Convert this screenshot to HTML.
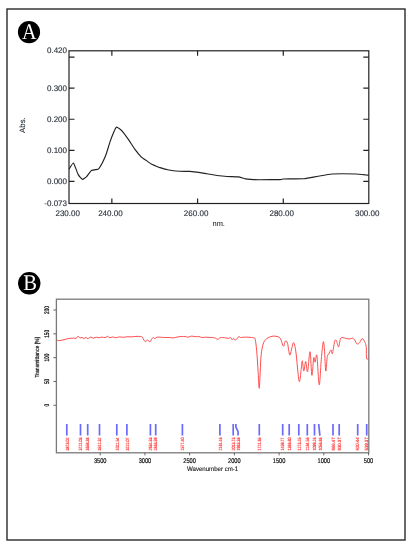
<!DOCTYPE html>
<html><head><meta charset="utf-8"><title>Figure</title>
<style>html,body{margin:0;padding:0;background:#fff;width:416px;height:550px;overflow:hidden}svg{display:block}</style>
</head><body>
<svg width="416" height="550" viewBox="0 0 416 550" font-family="Liberation Sans, Arial, sans-serif" text-rendering="geometricPrecision">
<rect x="7" y="9" width="398" height="531" fill="none" stroke="#2a2a2a" stroke-width="1.4"/>
<circle cx="29" cy="32.1" r="11.1" fill="#000"/>
<text transform="translate(29.3 39.2) scale(0.9 1)" text-anchor="middle" font-family="Liberation Serif, serif" font-size="22.4" fill="#fff">A</text>
<rect x="69" y="50.8" width="299.8" height="152.7" fill="none" stroke="#222" stroke-width="1.2"/>
<path d="M69 57.08H74.5M368.8 57.08H363.3M69 88.16H74.5M368.8 88.16H363.3M69 119.24H74.5M368.8 119.24H363.3M69 150.32H74.5M368.8 150.32H363.3M69 181.4H74.5M368.8 181.4H363.3M111.86 50.8V55.8M111.86 203.5V198.5M197.57 50.8V55.8M197.57 203.5V198.5M283.29 50.8V55.8M283.29 203.5V198.5" stroke="#222" stroke-width="1.2" fill="none"/>
<text x="67" y="53.4" text-anchor="end" font-size="8" fill="#262c36" stroke="#262c36" stroke-width="0.12">0.420</text>
<text x="67" y="90.96" text-anchor="end" font-size="8" fill="#262c36" stroke="#262c36" stroke-width="0.12">0.300</text>
<text x="67" y="122.04" text-anchor="end" font-size="8" fill="#262c36" stroke="#262c36" stroke-width="0.12">0.200</text>
<text x="67" y="153.12" text-anchor="end" font-size="8" fill="#262c36" stroke="#262c36" stroke-width="0.12">0.100</text>
<text x="67" y="184.2" text-anchor="end" font-size="8" fill="#262c36" stroke="#262c36" stroke-width="0.12">0.000</text>
<text x="67" y="206.1" text-anchor="end" font-size="8" fill="#262c36" stroke="#262c36" stroke-width="0.12">-0.073</text>
<text x="67.7" y="216.1" text-anchor="middle" font-size="8" fill="#262c36" stroke="#262c36" stroke-width="0.12">230.00</text>
<text x="110.4" y="216.1" text-anchor="middle" font-size="8" fill="#262c36" stroke="#262c36" stroke-width="0.12">240.00</text>
<text x="196.1" y="216.1" text-anchor="middle" font-size="8" fill="#262c36" stroke="#262c36" stroke-width="0.12">260.00</text>
<text x="281.7" y="216.1" text-anchor="middle" font-size="8" fill="#262c36" stroke="#262c36" stroke-width="0.12">280.00</text>
<text x="367.2" y="216.1" text-anchor="middle" font-size="8" fill="#262c36" stroke="#262c36" stroke-width="0.12">300.00</text>
<text x="212.6" y="226" font-size="7.4" fill="#262c36" stroke="#262c36" stroke-width="0.1">nm.</text>
<text transform="translate(25.1 132.9) rotate(-90)" font-size="7.8" fill="#262c36" stroke="#262c36" stroke-width="0.12">Abs.</text>
<path d="M69 169.2C69.29 168.79 72.79 162.64 73.4 163C74.01 163.36 77.6 173.51 78.2 174.6C78.8 175.69 81.84 179.26 82.4 179.4C82.96 179.54 86 177.3 86.6 176.7C87.2 176.1 90.63 170.9 91.4 170.4C92.17 169.9 97.53 169.43 98.1 169.2C98.67 168.97 99.68 167.39 100 166.9C100.32 166.41 102.47 162.71 102.9 161.8C103.33 160.89 106.02 154.55 106.5 153.2C106.98 151.85 109.62 142.99 110.1 141.6C110.58 140.21 113.29 133.26 113.7 132.3C114.11 131.34 115.91 127.44 116.3 127.2C116.69 126.96 119.09 128.43 119.5 128.7C119.91 128.97 121.77 130.53 122.4 131.3C123.03 132.07 128.09 139.03 128.9 140.2C129.71 141.37 133.79 147.79 134.6 148.9C135.41 150.01 140.33 156.03 141.1 156.8C141.87 157.57 145.53 159.92 146.2 160.4C146.87 160.88 150.53 163.61 151.2 164C151.87 164.39 155.71 165.96 156.3 166.2C156.89 166.44 159.25 167.37 160 167.6C160.75 167.83 166.23 169.46 167.5 169.7C168.77 169.94 177.5 171.09 179 171.2C180.5 171.31 188.59 171.31 190 171.4C191.41 171.49 198.98 172.44 200.1 172.6C201.22 172.76 205.68 173.61 206.8 173.8C207.92 173.99 215.55 175.32 216.9 175.5C218.25 175.68 225.54 176.41 227 176.5C228.46 176.59 237.56 176.74 238.8 176.9C240.04 177.06 244.81 178.73 245.6 178.9C246.39 179.07 249.64 179.35 250.6 179.4C251.56 179.45 258.01 179.69 260 179.7C261.99 179.71 278.85 179.65 280.4 179.6C281.95 179.55 281.73 179.06 283.3 179C284.87 178.94 301.69 178.93 304 178.75C306.31 178.57 316.12 176.57 318 176.25C319.88 175.93 329.69 174.15 332.2 174C334.71 173.85 353.31 173.93 355.6 174C357.89 174.07 365.72 174.92 366.6 175C367.48 175.08 368.65 175.19 368.8 175.2" fill="none" stroke="#222" stroke-width="1.15" stroke-linejoin="round"/>
<circle cx="29.25" cy="283.3" r="11.2" fill="#000"/>
<text transform="translate(30 290.3) scale(0.92 1)" text-anchor="middle" font-family="Liberation Serif, serif" font-size="22.4" fill="#fff">B</text>
<rect x="56.4" y="299.2" width="312.40000000000003" height="153.60000000000002" fill="none" stroke="#7a7a7a" stroke-width="1.3"/>
<path d="M56.4 405.3H53.4M56.4 381.48H53.4M56.4 357.65H53.4M56.4 333.83H53.4M56.4 310H53.4M100.21 452.8V455.40000000000003M144.93 452.8V455.40000000000003M189.64 452.8V455.40000000000003M234.36 452.8V455.40000000000003M279.07 452.8V455.40000000000003M323.79 452.8V455.40000000000003M368.5 452.8V455.40000000000003" stroke="#555" stroke-width="0.9" fill="none"/>
<text transform="translate(49 405.3) rotate(-90)" text-anchor="middle" font-size="6.6" fill="#111" stroke="#111" stroke-width="0.25" textLength="2.65" lengthAdjust="spacingAndGlyphs">0</text>
<text transform="translate(49 381.48) rotate(-90)" text-anchor="middle" font-size="6.6" fill="#111" stroke="#111" stroke-width="0.25" textLength="5.3" lengthAdjust="spacingAndGlyphs">50</text>
<text transform="translate(49 357.65) rotate(-90)" text-anchor="middle" font-size="6.6" fill="#111" stroke="#111" stroke-width="0.25" textLength="7.95" lengthAdjust="spacingAndGlyphs">100</text>
<text transform="translate(49 333.83) rotate(-90)" text-anchor="middle" font-size="6.6" fill="#111" stroke="#111" stroke-width="0.25" textLength="7.95" lengthAdjust="spacingAndGlyphs">150</text>
<text transform="translate(49 310) rotate(-90)" text-anchor="middle" font-size="6.6" fill="#111" stroke="#111" stroke-width="0.25" textLength="7.95" lengthAdjust="spacingAndGlyphs">200</text>
<text x="100.21" y="462.9" text-anchor="middle" font-size="6.9" fill="#111" stroke="#111" stroke-width="0.2" textLength="12.6" lengthAdjust="spacingAndGlyphs">3500</text>
<text x="144.93" y="462.9" text-anchor="middle" font-size="6.9" fill="#111" stroke="#111" stroke-width="0.2" textLength="12.6" lengthAdjust="spacingAndGlyphs">3000</text>
<text x="189.64" y="462.9" text-anchor="middle" font-size="6.9" fill="#111" stroke="#111" stroke-width="0.2" textLength="12.6" lengthAdjust="spacingAndGlyphs">2500</text>
<text x="234.36" y="462.9" text-anchor="middle" font-size="6.9" fill="#111" stroke="#111" stroke-width="0.2" textLength="12.6" lengthAdjust="spacingAndGlyphs">2000</text>
<text x="279.07" y="462.9" text-anchor="middle" font-size="6.9" fill="#111" stroke="#111" stroke-width="0.2" textLength="12.6" lengthAdjust="spacingAndGlyphs">1500</text>
<text x="323.79" y="462.9" text-anchor="middle" font-size="6.9" fill="#111" stroke="#111" stroke-width="0.2" textLength="12.6" lengthAdjust="spacingAndGlyphs">1000</text>
<text x="368.5" y="462.9" text-anchor="middle" font-size="6.9" fill="#111" stroke="#111" stroke-width="0.2" textLength="9.45" lengthAdjust="spacingAndGlyphs">500</text>
<text x="212.6" y="470.8" text-anchor="middle" font-size="6.4" fill="#111" stroke="#111" stroke-width="0.1" textLength="51.2" lengthAdjust="spacingAndGlyphs">Wavenumber cm-1</text>
<text transform="translate(38.7 357.3) rotate(-90)" text-anchor="middle" font-size="5.8" fill="#111" stroke="#111" stroke-width="0.2" textLength="40.5" lengthAdjust="spacingAndGlyphs">Transmittance [%]</text>
<path d="M56.8 339.6C56.98 339.77 57.37 340.45 57.9 340.6C58.43 340.75 59.2 340.6 60 340.5C60.8 340.4 61.87 340.18 62.7 340C63.53 339.82 64.2 339.62 65 339.4C65.8 339.18 66.58 338.88 67.5 338.7C68.42 338.52 69.53 338.4 70.5 338.3C71.47 338.2 72.35 338.1 73.3 338.1C74.25 338.1 75.4 338.62 76.2 338.3C77 337.98 77.47 336.23 78.1 336.2C78.73 336.17 79.35 337.92 80 338.1C80.65 338.28 81.35 337.2 82 337.3C82.65 337.4 83.27 338.7 83.9 338.7C84.53 338.7 85.17 337.3 85.8 337.3C86.43 337.3 86.9 338.73 87.7 338.7C88.5 338.67 89.63 337.2 90.6 337.1C91.57 337 92.53 338.07 93.5 338.1C94.47 338.13 95.43 337.37 96.4 337.3C97.37 337.23 98.33 337.73 99.3 337.7C100.27 337.67 101.25 337.1 102.2 337.1C103.15 337.1 104.12 337.83 105 337.7C105.88 337.57 106.7 336.3 107.5 336.3C108.3 336.3 108.93 337.6 109.8 337.7C110.67 337.8 111.73 336.9 112.7 336.9C113.67 336.9 114.47 337.7 115.6 337.7C116.73 337.7 118.22 336.97 119.5 336.9C120.78 336.83 122.02 337.33 123.3 337.3C124.58 337.27 125.92 336.77 127.2 336.7C128.48 336.63 129.53 336.95 131 336.9C132.47 336.85 134.45 336.47 136 336.4C137.55 336.33 139.22 336.37 140.3 336.5C141.38 336.63 141.9 336.6 142.5 337.2C143.1 337.8 143.42 339.38 143.9 340.1C144.38 340.82 144.8 341.5 145.4 341.5C146 341.5 146.9 340.13 147.5 340.1C148.1 340.07 148.52 341.07 149 341.3C149.48 341.53 149.92 341.93 150.4 341.5C150.88 341.07 151.42 339.37 151.9 338.7C152.38 338.03 152.82 337.5 153.3 337.5C153.78 337.5 154.2 338.75 154.8 338.7C155.4 338.65 155.95 337.45 156.9 337.2C157.85 336.95 159.17 337.15 160.5 337.2C161.83 337.25 163.45 337.45 164.9 337.5C166.35 337.55 167.77 337.43 169.2 337.5C170.63 337.57 172.07 338 173.5 337.9C174.93 337.8 176.35 337.13 177.8 336.9C179.25 336.67 180.98 336.57 182.2 336.5C183.42 336.43 184.13 336.38 185.1 336.5C186.07 336.62 186.92 337.27 188 337.2C189.08 337.13 190.27 336.17 191.6 336.1C192.93 336.03 194.78 336.73 196 336.8C197.22 336.87 197.93 336.38 198.9 336.5C199.87 336.62 200.6 337.38 201.8 337.5C203 337.62 204.67 337.2 206.1 337.2C207.53 337.2 208.95 337.38 210.4 337.5C211.85 337.62 213.6 337.58 214.8 337.9C216 338.22 216.77 339.4 217.6 339.4C218.43 339.4 218.95 338.22 219.8 337.9C220.65 337.58 221.73 337.5 222.7 337.5C223.67 337.5 224.63 337.75 225.6 337.9C226.57 338.05 227.67 338.47 228.5 338.4C229.33 338.33 230 337.27 230.6 337.5C231.2 337.73 231.57 339.65 232.1 339.8C232.63 339.95 233.28 338.35 233.8 338.4C234.32 338.45 234.65 340.05 235.2 340.1C235.75 340.15 236.48 339.3 237.1 338.7C237.72 338.1 238.3 336.7 238.9 336.5C239.5 336.3 239.92 337.38 240.7 337.5C241.48 337.62 242.38 337.25 243.6 337.2C244.82 337.15 246.67 337.15 248 337.2C249.33 337.25 250.65 337.38 251.6 337.5C252.55 337.62 253.1 337.58 253.7 337.9C254.3 338.22 254.7 337.25 255.2 339.4C255.7 341.55 256.23 345.7 256.7 350.8C257.17 355.9 257.58 363.75 258 370C258.42 376.25 258.83 387.97 259.2 388.3C259.57 388.63 259.87 377.62 260.2 372C260.53 366.38 260.65 359.43 261.2 354.6C261.75 349.77 262.48 345.72 263.5 343C264.52 340.28 265.88 339.42 267.3 338.3C268.72 337.18 270.55 336.63 272 336.3C273.45 335.97 274.63 335.98 276 336.3C277.37 336.62 278.97 336.55 280.2 338.2C281.43 339.85 282.55 345.72 283.4 346.2C284.25 346.68 284.62 341.58 285.3 341.1C285.98 340.62 286.77 340.98 287.5 343.3C288.23 345.62 289.02 354.03 289.7 355C290.38 355.97 290.95 351.17 291.6 349.1C292.25 347.03 292.88 342.12 293.6 342.6C294.32 343.08 294.98 345.57 295.9 352C296.82 358.43 298.2 378.52 299.1 381.2C300 383.88 300.77 371.5 301.3 368.1C301.83 364.7 301.88 360.32 302.3 360.8C302.72 361.28 303.23 370.88 303.8 371C304.37 371.12 305.07 361.38 305.7 361.5C306.33 361.62 306.88 373.33 307.6 371.7C308.32 370.07 309.28 351.1 310 351.7C310.72 352.3 311.28 374.27 311.9 375.3C312.52 376.33 313.17 360.08 313.7 357.9C314.23 355.72 314.57 362.57 315.1 362.2C315.63 361.83 316.22 351.93 316.9 355.7C317.58 359.47 318.47 384.2 319.2 384.8C319.93 385.4 320.63 366.43 321.3 359.3C321.97 352.17 322.68 343.7 323.2 342C323.72 340.3 323.97 344.27 324.4 349.1C324.83 353.93 325.32 369.78 325.8 371C326.28 372.22 326.82 359.2 327.3 356.4C327.78 353.6 328.1 355.28 328.7 354.2C329.3 353.12 330.28 350.02 330.9 349.9C331.52 349.78 331.78 354.85 332.4 353.5C333.02 352.15 333.95 343.98 334.6 341.8C335.25 339.62 335.63 339.55 336.3 340.4C336.97 341.25 337.92 347.15 338.6 346.9C339.28 346.65 339.73 340.47 340.4 338.9C341.07 337.33 341.63 337.55 342.6 337.5C343.57 337.45 344.98 338.37 346.2 338.6C347.42 338.83 348.85 338.97 349.9 338.9C350.95 338.83 351.72 338.03 352.5 338.2C353.28 338.37 353.83 338.93 354.6 339.9C355.37 340.87 356.27 343.55 357.1 344C357.93 344.45 358.75 343.5 359.6 342.6C360.45 341.7 361.28 338.6 362.2 338.6C363.12 338.6 364.42 341.08 365.1 342.6C365.78 344.12 366.05 345.03 366.3 347.7C366.55 350.37 366.18 356.88 366.6 358.6C367.02 360.32 368.43 358.1 368.8 358" fill="none" stroke="#ff3a3a" stroke-width="0.9" stroke-linejoin="round"/>
<path d="M66.8 424V435.6M80.5 424V435.6M87.7 424V435.6M99.5 424V435.6M116.8 424V435.6M126.9 424V435.6M150.4 424V435.6M155.7 424V435.6M182.4 424V435.6M219.9 424V435.6M233.2 424V435.6M235.9 424V427L238.1 431.6V435.6M259.3 424V435.6M282.7 424V435.6M289.2 424V435.6M298.8 424V435.6M307.3 424V435.6M314.5 424V435.6M318.7 424L319.9 435.6M333 424V435.6M339.2 424V435.6M357.7 424V435.6M366.7 424V435.6" stroke="#6a6aff" stroke-width="1.7" fill="none"/>
<text transform="translate(68.55 437.4) rotate(-90)" text-anchor="end" font-size="4.6" fill="#ff1a1a" stroke="#ff1a1a" stroke-width="0.12" textLength="13" lengthAdjust="spacingAndGlyphs">3873.02</text>
<text transform="translate(82.25 437.4) rotate(-90)" text-anchor="end" font-size="4.6" fill="#ff1a1a" stroke="#ff1a1a" stroke-width="0.12" textLength="13" lengthAdjust="spacingAndGlyphs">3721.03</text>
<text transform="translate(89.45 437.4) rotate(-90)" text-anchor="end" font-size="4.6" fill="#ff1a1a" stroke="#ff1a1a" stroke-width="0.12" textLength="13" lengthAdjust="spacingAndGlyphs">3658.38</text>
<text transform="translate(101.25 437.4) rotate(-90)" text-anchor="end" font-size="4.6" fill="#ff1a1a" stroke="#ff1a1a" stroke-width="0.12" textLength="13" lengthAdjust="spacingAndGlyphs">3512.32</text>
<text transform="translate(118.55 437.4) rotate(-90)" text-anchor="end" font-size="4.6" fill="#ff1a1a" stroke="#ff1a1a" stroke-width="0.12" textLength="13" lengthAdjust="spacingAndGlyphs">3311.54</text>
<text transform="translate(128.65 437.4) rotate(-90)" text-anchor="end" font-size="4.6" fill="#ff1a1a" stroke="#ff1a1a" stroke-width="0.12" textLength="13" lengthAdjust="spacingAndGlyphs">3222.07</text>
<text transform="translate(152.15 437.4) rotate(-90)" text-anchor="end" font-size="4.6" fill="#ff1a1a" stroke="#ff1a1a" stroke-width="0.12" textLength="13" lengthAdjust="spacingAndGlyphs">2934.53</text>
<text transform="translate(157.45 437.4) rotate(-90)" text-anchor="end" font-size="4.6" fill="#ff1a1a" stroke="#ff1a1a" stroke-width="0.12" textLength="13" lengthAdjust="spacingAndGlyphs">2863.59</text>
<text transform="translate(184.15 437.4) rotate(-90)" text-anchor="end" font-size="4.6" fill="#ff1a1a" stroke="#ff1a1a" stroke-width="0.12" textLength="13" lengthAdjust="spacingAndGlyphs">2577.40</text>
<text transform="translate(221.65 437.4) rotate(-90)" text-anchor="end" font-size="4.6" fill="#ff1a1a" stroke="#ff1a1a" stroke-width="0.12" textLength="13" lengthAdjust="spacingAndGlyphs">2161.46</text>
<text transform="translate(234.95 437.4) rotate(-90)" text-anchor="end" font-size="4.6" fill="#ff1a1a" stroke="#ff1a1a" stroke-width="0.12" textLength="13" lengthAdjust="spacingAndGlyphs">2013.73</text>
<text transform="translate(239.85 437.4) rotate(-90)" text-anchor="end" font-size="4.6" fill="#ff1a1a" stroke="#ff1a1a" stroke-width="0.12" textLength="13" lengthAdjust="spacingAndGlyphs">1983.36</text>
<text transform="translate(261.05 437.4) rotate(-90)" text-anchor="end" font-size="4.6" fill="#ff1a1a" stroke="#ff1a1a" stroke-width="0.12" textLength="13" lengthAdjust="spacingAndGlyphs">1721.65</text>
<text transform="translate(284.45 437.4) rotate(-90)" text-anchor="end" font-size="4.6" fill="#ff1a1a" stroke="#ff1a1a" stroke-width="0.12" textLength="13" lengthAdjust="spacingAndGlyphs">1459.77</text>
<text transform="translate(290.95 437.4) rotate(-90)" text-anchor="end" font-size="4.6" fill="#ff1a1a" stroke="#ff1a1a" stroke-width="0.12" textLength="13" lengthAdjust="spacingAndGlyphs">1386.80</text>
<text transform="translate(300.55 437.4) rotate(-90)" text-anchor="end" font-size="4.6" fill="#ff1a1a" stroke="#ff1a1a" stroke-width="0.12" textLength="13" lengthAdjust="spacingAndGlyphs">1273.25</text>
<text transform="translate(309.05 437.4) rotate(-90)" text-anchor="end" font-size="4.6" fill="#ff1a1a" stroke="#ff1a1a" stroke-width="0.12" textLength="13" lengthAdjust="spacingAndGlyphs">1184.56</text>
<text transform="translate(316.25 437.4) rotate(-90)" text-anchor="end" font-size="4.6" fill="#ff1a1a" stroke="#ff1a1a" stroke-width="0.12" textLength="13" lengthAdjust="spacingAndGlyphs">1099.26</text>
<text transform="translate(321.65 437.4) rotate(-90)" text-anchor="end" font-size="4.6" fill="#ff1a1a" stroke="#ff1a1a" stroke-width="0.12" textLength="13" lengthAdjust="spacingAndGlyphs">1056.88</text>
<text transform="translate(334.75 437.4) rotate(-90)" text-anchor="end" font-size="4.6" fill="#ff1a1a" stroke="#ff1a1a" stroke-width="0.12" textLength="13" lengthAdjust="spacingAndGlyphs">866.47</text>
<text transform="translate(340.95 437.4) rotate(-90)" text-anchor="end" font-size="4.6" fill="#ff1a1a" stroke="#ff1a1a" stroke-width="0.12" textLength="13" lengthAdjust="spacingAndGlyphs">830.37</text>
<text transform="translate(359.45 437.4) rotate(-90)" text-anchor="end" font-size="4.6" fill="#ff1a1a" stroke="#ff1a1a" stroke-width="0.12" textLength="13" lengthAdjust="spacingAndGlyphs">620.44</text>
<text transform="translate(368.45 437.4) rotate(-90)" text-anchor="end" font-size="4.6" fill="#ff1a1a" stroke="#ff1a1a" stroke-width="0.12" textLength="13" lengthAdjust="spacingAndGlyphs">539.37</text>
</svg>
</body></html>
